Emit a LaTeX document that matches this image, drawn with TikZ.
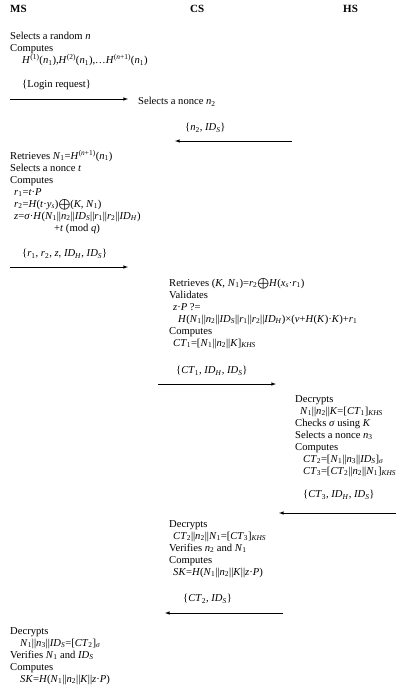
\documentclass[tikz,border=0pt]{standalone}
\usepackage{fontspec}
\setmainfont{Liberation Serif}
\usepackage{amssymb}
\usepackage{tikz}
\usetikzlibrary{arrows,positioning}
\newcommand{\I}[1]{\textit{#1}}
\newcommand{\lo}[1]{\textsubscript{#1}}
\newcommand{\up}[1]{\textsuperscript{#1}}
\newcommand{\cc}{\textbar\textbar}
\newcommand{\ind}[1]{\hspace*{#1pt}}
\newcommand{\xor}{$\bigoplus$}
\tikzset{
proto_txt/.style = {align=left, inner sep=0pt, anchor=north west,
font=\fontsize{10.6}{12}\selectfont},% texte du protocole
proto_hdr/.style = {inner sep=0pt, anchor=north west, font=\fontsize{11}{12}\selectfont\bfseries},% entite
proto_lbl/.style = {proto_txt},% contenu du message
proto_msg/.style = {-latex, semithick}% fleche du message
}
\begin{document}
\begin{tikzpicture}[x=1pt,y=-1pt]
  \useasboundingbox (0,0) rectangle (402,689);
  % entites
  \node [proto_hdr] (ms) at (10,5) {MS};
  \node [proto_hdr] (cs) at (190,5) {CS};
  \node [proto_hdr] (hs) at (343,5) {HS};
  % MS : demande de connexion
  \node [proto_txt] (ms_a) at (10,32) {Selects a random \I{n}\\
    Computes\\
    \ind{12}\I{H}\up{(1)}(\I{n}\lo{1}),\I{H}\up{(2)}(\I{n}\lo{1}),\dots\I{H}\up{(\I{n}+1)}(\I{n}\lo{1})};
  \node [proto_lbl] (m_a) at (22,80) {\{Login request\}};
  \coordinate (a_from) at (10,99);
  \coordinate (a_to) at (128,99);
  \draw [proto_msg] (a_from) -- (a_to);
  % CS : nonce
  \node [proto_txt] (cs_a) at (138,97) {Selects a nonce \I{n}\lo{2}};
  \node [proto_lbl] (m_b) at (185,123) {\{\I{n}\lo{2}, \I{ID}\lo{\I{S}}\}};
  \coordinate (b_from) at (292,141);
  \coordinate (b_to) at (175,141);
  \draw [proto_msg] (b_from) -- (b_to);
  % MS : calculs
  \node [proto_txt] (ms_b) at (10,150) {Retrieves \I{N}\lo{1}=\I{H}\up{(\I{n}+1)}(\I{n}\lo{1})\\
    Selects a nonce \I{t}\\
    Computes\\
    \ind{4}\I{r}\lo{1}=\I{t}·\I{P}\\
    \ind{4}\I{r}\lo{2}=\I{H}(\I{t}·\I{y}\lo{\I{s}})\xor(\I{K}, \I{N}\lo{1})\\
    \ind{4}\I{z}=\I{σ}·\I{H}(\I{N}\lo{1}\cc\I{n}\lo{2}\cc\I{ID}\lo{\I{S}}\cc\I{r}\lo{1}\cc\I{r}\lo{2}\cc\I{ID}\lo{\I{H}})\\
    \ind{44}+\I{t} (mod \I{q})};
  \node [proto_lbl] (m_c) at (22,249) {\{\I{r}\lo{1}, \I{r}\lo{2}, \I{z}, \I{ID}\lo{\I{H}}, \I{ID}\lo{\I{S}}\}};
  \coordinate (c_from) at (10,267);
  \coordinate (c_to) at (128,267);
  \draw [proto_msg] (c_from) -- (c_to);
  % CS : validation
  \node [proto_txt] (cs_b) at (169,278) {Retrieves (\I{K}, \I{N}\lo{1})=\I{r}\lo{2}\xor\I{H}(\I{x}\lo{\I{s}}·\I{r}\lo{1})\\
    Validates\\
    \ind{4}\I{z}·\I{P} ?=\\
    \ind{9}\I{H}(\I{N}\lo{1}\cc\I{n}\lo{2}\cc\I{ID}\lo{\I{S}}\cc\I{r}\lo{1}\cc\I{r}\lo{2}\cc\I{ID}\lo{\I{H}})×(\I{v}+\I{H}(\I{K})·\I{K})+\I{r}\lo{1}\\
    Computes\\
    \ind{4}\I{CT}\lo{1}=[\I{N}\lo{1}\cc\I{n}\lo{2}\cc\I{K}]\lo{\I{KHS}}};
  \node [proto_lbl] (m_d) at (176,366) {\{\I{CT}\lo{1}, \I{ID}\lo{\I{H}}, \I{ID}\lo{\I{S}}\}};
  \coordinate (d_from) at (158,384);
  \coordinate (d_to) at (276,384);
  \draw [proto_msg] (d_from) -- (d_to);
  % HS : dechiffrement
  \node [proto_txt] (hs_a) at (295,395) {Decrypts\\
    \ind{5}\I{N}\lo{1}\cc\I{n}\lo{2}\cc\I{K}=[\I{CT}\lo{1}]\lo{\I{KHS}}\\
    Checks \I{σ} using \I{K}\\
    Selects a nonce \I{n}\lo{3}\\
    Computes\\
    \ind{8}\I{CT}\lo{2}=[\I{N}\lo{1}\cc\I{n}\lo{3}\cc\I{ID}\lo{\I{S}}]\lo{\I{σ}}\\
    \ind{8}\I{CT}\lo{3}=[\I{CT}\lo{2}\cc\I{n}\lo{2}\cc\I{N}\lo{1}]\lo{\I{KHS}}};
  \node [proto_lbl] (m_e) at (303,490) {\{\I{CT}\lo{3}, \I{ID}\lo{\I{H}}, \I{ID}\lo{\I{S}}\}};
  \coordinate (e_from) at (396,513);
  \coordinate (e_to) at (279,513);
  \draw [proto_msg] (e_from) -- (e_to);
  % CS : cle de session
  \node [proto_txt] (cs_c) at (169,520) {Decrypts\\
    \ind{4}\I{CT}\lo{2}\cc\I{n}\lo{2}\cc\I{N}\lo{1}=[\I{CT}\lo{3}]\lo{\I{KHS}}\\
    Verifies \I{n}\lo{2} and \I{N}\lo{1}\\
    Computes\\
    \ind{4}\I{SK}=\I{H}(\I{N}\lo{1}\cc\I{n}\lo{2}\cc\I{K}\cc\I{z}·\I{P})};
  \node [proto_lbl] (m_f) at (183,594) {\{\I{CT}\lo{2}, \I{ID}\lo{\I{S}}\}};
  \coordinate (f_from) at (283,613);
  \coordinate (f_to) at (165,613);
  \draw [proto_msg] (f_from) -- (f_to);
  % MS : cle de session
  \node [proto_txt] (ms_c) at (10,627) {Decrypts\\
    \ind{10}\I{N}\lo{1}\cc\I{n}\lo{3}\cc\I{ID}\lo{\I{S}}=[\I{CT}\lo{2}]\lo{\I{σ}}\\
    Verifies \I{N}\lo{1} and \I{ID}\lo{\I{S}}\\
    Computes\\
    \ind{10}\I{SK}=\I{H}(\I{N}\lo{1}\cc\I{n}\lo{2}\cc\I{K}\cc\I{z}·\I{P})};
\end{tikzpicture}
\end{document}
